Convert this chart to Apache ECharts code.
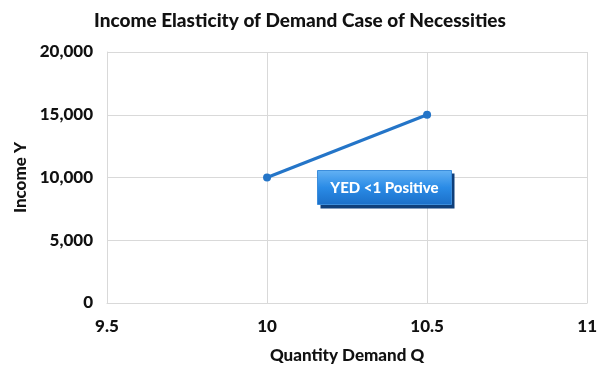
<!DOCTYPE html>
<html>
<head>
<meta charset="utf-8">
<script src="https://cdn.jsdelivr.net/npm/echarts@6/dist/echarts.min.js"></script>
<style>
  html, body { margin: 0; padding: 0; background: #fff; }
  #app { width: 600px; height: 376px; }
</style>
</head>
<body>
<div id="app"></div>
<script>
const quantity = [10, 10.5];
const income = [10000, 15000];
const xTicks = [9.5, 10, 10.5, 11];
const yTicks = [0, 5000, 10000, 15000, 20000];

const FONT = "Lato";
const LINE_BLUE = "#2475C8";

const chart = echarts.init(document.getElementById("app"));

chart.setOption({
  backgroundColor: "#fff",
  textStyle: { fontFamily: FONT },
  title: {
    text: "Income Elasticity of Demand Case of Necessities",
    left: "center",
    top: 6,
    textStyle: { fontFamily: FONT, fontSize: 19, fontWeight: 900, color: "#111" }
  },
  grid: { left: 107, right: 12, top: 52, bottom: 73 },
  xAxis: {
    type: "value",
    min: xTicks[0],
    max: xTicks[xTicks.length - 1],
    interval: 0.5,
    name: "Quantity Demand Q",
    nameLocation: "middle",
    nameGap: 44,
    nameTextStyle: { fontFamily: FONT, fontSize: 17, fontWeight: 900, color: "#111" },
    axisLine: { show: true, lineStyle: { color: "#d9d9d9" } },
    axisTick: { show: false },
    axisLabel: {
      margin: 15,
      fontFamily: FONT, fontSize: 17, fontWeight: 900, color: "#111"
    },
    splitLine: { show: true, lineStyle: { color: "#d9d9d9" } }
  },
  yAxis: {
    type: "value",
    min: yTicks[0],
    max: yTicks[yTicks.length - 1],
    interval: 5000,
    name: "Income Y",
    nameLocation: "middle",
    nameGap: 71,
    nameTextStyle: { fontFamily: FONT, fontSize: 17, fontWeight: 900, color: "#111" },
    axisLine: { show: true, lineStyle: { color: "#d9d9d9" } },
    axisTick: { show: false },
    axisLabel: {
      margin: 14,
      fontFamily: FONT, fontSize: 17, fontWeight: 900, color: "#111",
      formatter: v => v.toLocaleString("en-US")
    },
    splitLine: { show: true, lineStyle: { color: "#d9d9d9" } }
  },
  series: [{
    type: "line",
    data: quantity.map((q, i) => [q, income[i]]),
    symbol: "circle",
    symbolSize: 8,
    lineStyle: { color: LINE_BLUE, width: 3 },
    itemStyle: { color: LINE_BLUE },
    animation: false
  }],
  graphic: [{
    type: "group",
    left: 317,
    top: 170,
    z: 100,
    children: [
      {
        type: "rect",
        z: 100,
        shape: { x: 3, y: 3, width: 134, height: 35 },
        style: { fill: "#0F3F7A" }
      },
      {
        type: "rect",
        z: 101,
        shape: { x: 0, y: 0, width: 134, height: 34 },
        style: {
          fill: new echarts.graphic.LinearGradient(0, 0, 0, 1, [
            { offset: 0, color: "#64B2F4" },
            { offset: 0.5, color: "#2A8BE6" },
            { offset: 1, color: "#1B6FC8" }
          ]),
          stroke: "#3C8DDB",
          lineWidth: 1
        }
      },
      {
        type: "text",
        z: 102,
        x: 67,
        y: 18,
        style: {
          text: "YED <1 Positive",
          fill: "#fff",
          font: "900 15px Lato",
          align: "center",
          verticalAlign: "middle"
        }
      }
    ]
  }]
});

window.onresize = function() {
  chart.resize();
};
</script>
</body>
</html>
